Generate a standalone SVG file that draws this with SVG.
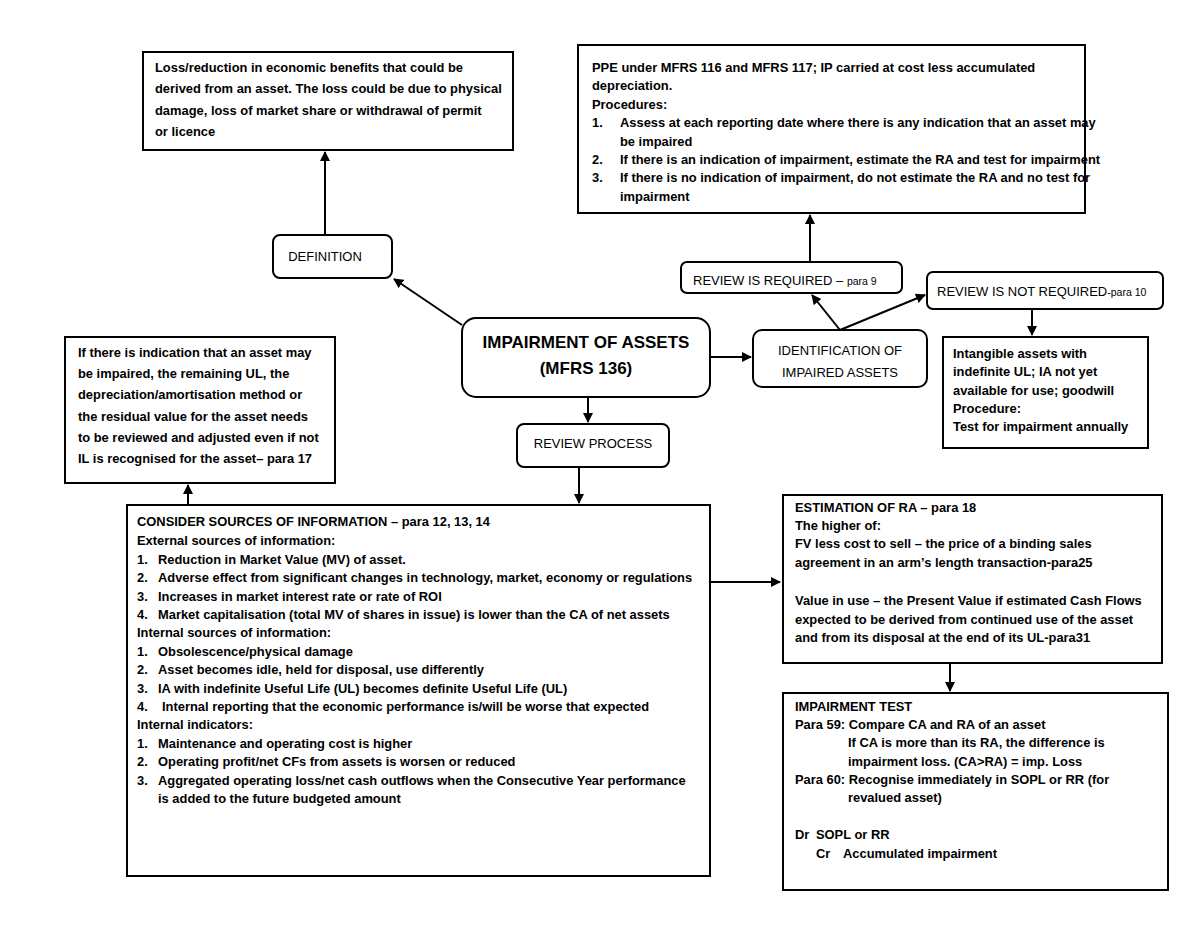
<svg xmlns="http://www.w3.org/2000/svg" width="1200" height="927" viewBox="0 0 1200 927">
<defs>
<marker id="ah" viewBox="0 0 10 10" refX="9" refY="5" markerWidth="5" markerHeight="5" orient="auto" markerUnits="strokeWidth">
<path d="M0,0 L10,5 L0,10 z" fill="#000"/>
</marker>
<style>
.box{fill:#fff;stroke:#000;stroke-width:2}
.rbox{fill:#fff;stroke:#000;stroke-width:2}
.t{font-family:"Liberation Sans",Arial,sans-serif;font-weight:bold;font-size:12.9px;fill:#000}
.lbl{font-family:"Liberation Sans",Arial,sans-serif;font-size:13px;fill:#000}
.small{font-family:"Liberation Sans",Arial,sans-serif;font-size:10.5px}
.title{font-family:"Liberation Sans",Arial,sans-serif;font-weight:bold;font-size:17px;fill:#000}
.c{fill:none;stroke:#000;stroke-width:2;marker-end:url(#ah)}
</style>
</defs>
<rect width="1200" height="927" fill="#fff"/>

<g id="connectors">
<line class="c" x1="325" y1="235" x2="325" y2="152"/>
<line class="c" x1="462" y1="325" x2="394" y2="279"/>
<line class="c" x1="710" y1="357" x2="751" y2="357"/>
<line class="c" x1="840" y1="330" x2="812" y2="295"/>
<line class="c" x1="840" y1="330" x2="925" y2="295"/>
<line class="c" x1="810" y1="262" x2="810" y2="215"/>
<line class="c" x1="1032" y1="309" x2="1032" y2="335"/>
<line class="c" x1="588" y1="397" x2="588" y2="422"/>
<line class="c" x1="579" y1="467" x2="579" y2="503"/>
<line class="c" x1="188" y1="505" x2="188" y2="485"/>
<line class="c" x1="710" y1="582" x2="780" y2="582"/>
<line class="c" x1="950" y1="663" x2="950" y2="691"/>
</g>

<g id="definition-text">
<rect class="box" x="143" y="52" width="370" height="98"/>
<text class="t" x="155" y="72">Loss/reduction in economic benefits that could be</text>
<text class="t" x="155" y="93">derived from an asset. The loss could be due to physical</text>
<text class="t" x="155" y="115">damage, loss of market share or withdrawal of permit</text>
<text class="t" x="155" y="136">or licence</text>
</g>

<g id="definition">
<rect class="rbox" x="273" y="235" width="119" height="43" rx="7"/>
<text class="lbl" x="325" y="261" text-anchor="middle">DEFINITION</text>
</g>

<g id="main">
<rect class="rbox" x="462" y="318" width="248" height="79" rx="14"/>
<text class="title" x="586" y="348" text-anchor="middle">IMPAIRMENT OF ASSETS</text>
<text class="title" x="586" y="374" text-anchor="middle">(MFRS 136)</text>
</g>

<g id="identification">
<rect class="rbox" x="753" y="330" width="174" height="57" rx="9"/>
<text class="lbl" x="840" y="355" text-anchor="middle">IDENTIFICATION OF</text>
<text class="lbl" x="840" y="377" text-anchor="middle">IMPAIRED ASSETS</text>
</g>

<g id="review-required">
<rect class="rbox" x="681" y="262" width="221" height="31" rx="6"/>
<text class="lbl" x="693" y="285">REVIEW IS REQUIRED – <tspan class="small">para 9</tspan></text>
</g>

<g id="review-not-required">
<rect class="rbox" x="927" y="272" width="236" height="37" rx="6"/>
<text class="lbl" x="937" y="296">REVIEW IS NOT REQUIRED<tspan class="small">-para 10</tspan></text>
</g>

<g id="ppe">
<rect class="box" x="578" y="45" width="507" height="168"/>
<text class="t" x="592" y="72">PPE under MFRS 116 and MFRS 117; IP carried at cost less accumulated</text>
<text class="t" x="592" y="90">depreciation.</text>
<text class="t" x="592" y="109">Procedures:</text>
<text class="t" x="592" y="127">1.</text>
<text class="t" x="620" y="127">Assess at each reporting date where there is any indication that an asset may</text>
<text class="t" x="620" y="146">be impaired</text>
<text class="t" x="592" y="164">2.</text>
<text class="t" x="620" y="164">If there is an indication of impairment, estimate the RA and test for impairment</text>
<text class="t" x="592" y="182">3.</text>
<text class="t" x="620" y="182">If there is no indication of impairment, do not estimate the RA and no test for</text>
<text class="t" x="620" y="201">impairment</text>
</g>

<g id="intangible">
<rect class="box" x="943" y="337" width="205" height="111"/>
<text class="t" x="953" y="358">Intangible assets with</text>
<text class="t" x="953" y="376">indefinite UL; IA not yet</text>
<text class="t" x="953" y="395">available for use; goodwill</text>
<text class="t" x="953" y="413">Procedure:</text>
<text class="t" x="953" y="431">Test for impairment annually</text>
</g>

<g id="review-process">
<rect class="rbox" x="517" y="424" width="152" height="43" rx="7"/>
<text class="lbl" x="593" y="448" text-anchor="middle">REVIEW PROCESS</text>
</g>

<g id="useful-life">
<rect class="box" x="65" y="337" width="270" height="146"/>
<text class="t" x="78" y="357">If there is indication that an asset may</text>
<text class="t" x="78" y="378">be impaired, the remaining UL, the</text>
<text class="t" x="78" y="399">depreciation/amortisation method or</text>
<text class="t" x="78" y="421">the residual value for the asset needs</text>
<text class="t" x="78" y="442">to be reviewed and adjusted even if not</text>
<text class="t" x="78" y="463">IL is recognised for the asset– para 17</text>
</g>

<g id="sources">
<rect class="box" x="127" y="505" width="583" height="371"/>
<text class="t" x="137" y="526">CONSIDER SOURCES OF INFORMATION – para 12, 13, 14</text>
<text class="t" x="137" y="545">External sources of information:</text>
<text class="t" x="137" y="564">1.</text><text class="t" x="158" y="564">Reduction in Market Value (MV) of asset.</text>
<text class="t" x="137" y="582">2.</text><text class="t" x="158" y="582">Adverse effect from significant changes in technology, market, economy or regulations</text>
<text class="t" x="137" y="601">3.</text><text class="t" x="158" y="601">Increases in market interest rate or rate of ROI</text>
<text class="t" x="137" y="619">4.</text><text class="t" x="158" y="619">Market capitalisation (total MV of shares in issue) is lower than the CA of net assets</text>
<text class="t" x="137" y="637">Internal sources of information:</text>
<text class="t" x="137" y="656">1.</text><text class="t" x="158" y="656">Obsolescence/physical damage</text>
<text class="t" x="137" y="674">2.</text><text class="t" x="158" y="674">Asset becomes idle, held for disposal, use differently</text>
<text class="t" x="137" y="693">3.</text><text class="t" x="158" y="693">IA with indefinite Useful Life (UL) becomes definite Useful Life (UL)</text>
<text class="t" x="137" y="711">4.</text><text class="t" x="162" y="711">Internal reporting that the economic performance is/will be worse that expected</text>
<text class="t" x="137" y="729">Internal indicators:</text>
<text class="t" x="137" y="748">1.</text><text class="t" x="158" y="748">Maintenance and operating cost is higher</text>
<text class="t" x="137" y="766">2.</text><text class="t" x="158" y="766">Operating profit/net CFs from assets is worsen or reduced</text>
<text class="t" x="137" y="785">3.</text><text class="t" x="158" y="785">Aggregated operating loss/net cash outflows when the Consecutive Year performance</text>
<text class="t" x="158" y="803">is added to the future budgeted amount</text>
</g>

<g id="estimation">
<rect class="box" x="783" y="495" width="379" height="168"/>
<text class="t" x="795" y="512">ESTIMATION OF RA – para 18</text>
<text class="t" x="795" y="530">The higher of:</text>
<text class="t" x="795" y="548">FV less cost to sell – the price of a binding sales</text>
<text class="t" x="795" y="567">agreement in an arm’s length transaction-para25</text>
<text class="t" x="795" y="605">Value in use – the Present Value if estimated Cash Flows</text>
<text class="t" x="795" y="624">expected to be derived from continued use of the asset</text>
<text class="t" x="795" y="642">and from its disposal at the end of its UL-para31</text>
</g>

<g id="impairment-test">
<rect class="box" x="783" y="693" width="385" height="197"/>
<text class="t" x="795" y="711">IMPAIRMENT TEST</text>
<text class="t" x="795" y="729">Para 59: Compare CA and RA of an asset</text>
<text class="t" x="848" y="747">If CA is more than its RA, the difference is</text>
<text class="t" x="848" y="766">impairment loss. (CA&gt;RA) = imp. Loss</text>
<text class="t" x="795" y="784">Para 60: Recognise immediately in SOPL or RR (for</text>
<text class="t" x="848" y="802">revalued asset)</text>
<text class="t" x="795" y="839">Dr</text><text class="t" x="816" y="839">SOPL or RR</text>
<text class="t" x="816" y="858">Cr</text><text class="t" x="843" y="858">Accumulated impairment</text>
</g>
</svg>
